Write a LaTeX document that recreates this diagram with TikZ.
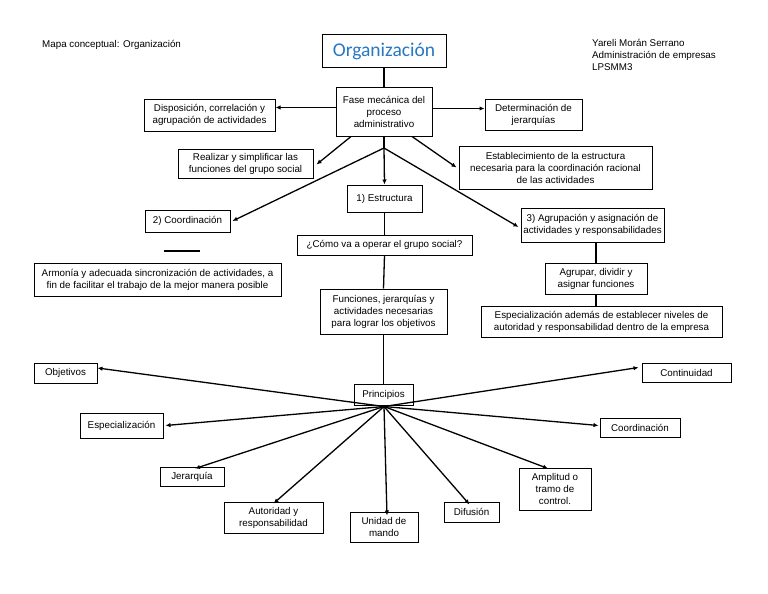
\documentclass[tikz,border=0pt]{standalone}
\usepackage{fontspec}
\setmainfont{Liberation Sans}
\newfontfamily\calfont{Carlito}
\usetikzlibrary{arrows.meta}
\definecolor{orgblue}{RGB}{38,120,196}
\begin{document}
\begin{tikzpicture}[x=1pt,y=-1pt,
  every node/.style={font=\fontsize{9.8}{12}\selectfont, text=black},
  box/.style={draw=black, line width=1pt, inner sep=0pt, align=center, fill=white},
  conn/.style={line width=1.3pt, draw=black},
  arr/.style={conn, -{Latex[length=5pt,width=4.5pt]}}
]
\useasboundingbox (0,0) rectangle (768,594);
% header texts
\node[anchor=west, inner sep=0pt] (title) at (42,45) {Mapa conceptual: Organización};
\node[anchor=north west, align=left, inner sep=0pt] (author) at (592,39) {Yareli Morán Serrano\\Administración de empresas\\LPSMM3};
% top boxes
\node[box, minimum width=124pt, minimum height=33pt, font=\calfont\fontsize{19.5}{22}\selectfont, text=orgblue] (org) at (384,51.5) {Organización};
\node[box, minimum width=96pt, minimum height=49pt] (fase) at (384,111.5) {Fase mecánica del\\proceso\\administrativo};
\node[box, minimum width=131pt, minimum height=32pt] (disp) at (209.5,115) {Disposición, correlación y\\agrupación de actividades};
\node[box, minimum width=97pt, minimum height=31pt] (det) at (533.5,114.5) {Determinación de\\jerarquías};
\node[box, minimum width=135pt, minimum height=29pt] (real) at (245.5,163.5) {Realizar y simplificar las\\funciones del grupo social};
\node[box, minimum width=193pt, minimum height=43pt] (est) at (555.5,167.5) {Establecimiento de la estructura\\necesaria para la coordinación racional\\de las actividades};
\node[box, minimum width=75pt, minimum height=27pt] (estr) at (384.5,198.5) {1) Estructura};
\node[box, minimum width=85pt, minimum height=22pt] (coord2) at (187.5,221) {2) Coordinación};
\node[box, minimum width=143pt, minimum height=34pt] (agr3) at (592.5,225) {3) Agrupación y asignación de\\actividades y responsabilidades};
\node[box, minimum width=247pt, minimum height=33pt] (armonia) at (157.5,279.5) {Armonía y adecuada sincronización de actividades, a\\fin de facilitar el trabajo de la mejor manera posible};
\node[box, minimum width=175pt, minimum height=20pt] (como) at (384.5,245) {¿Cómo va a operar el grupo social?};
\node[box, minimum width=127pt, minimum height=45pt] (func) at (383.5,311.5) {Funciones, jerarquías y\\actividades necesarias\\para lograr los objetivos};
\node[box, minimum width=102pt, minimum height=31pt] (agrupar) at (596,278.5) {Agrupar, dividir y\\asignar funciones};
\node[box, minimum width=241pt, minimum height=31pt] (espad) at (601.5,321.5) {Especialización además de establecer niveles de\\autoridad y responsabilidad dentro de la empresa};
% principles
\node[box, minimum width=59pt, minimum height=21pt] (prin) at (383.5,394.5) {Principios};
\node[box, minimum width=63pt, minimum height=20pt] (obj) at (65.5,373) {Objetivos};
\node[box, minimum width=83pt, minimum height=25pt] (spec) at (121.5,425.5) {Especialización};
\node[box, minimum width=64pt, minimum height=19pt] (jer) at (192,476.5) {Jerarquía};
\node[box, minimum width=99pt, minimum height=31pt] (aut) at (273.5,517.5) {Autoridad y\\responsabilidad};
\node[box, minimum width=68pt, minimum height=30pt] (uni) at (384,527) {Unidad de\\mando};
\node[box, minimum width=55pt, minimum height=20pt] (dif) at (471.5,512) {Difusión};
\node[box, minimum width=72pt, minimum height=42pt] (amp) at (555,489) {Amplitud o\\tramo de\\control.};
\node[box, minimum width=80pt, minimum height=19pt] (coo) at (640,427.5) {Coordinación};
\node[box, minimum width=89pt, minimum height=19pt] (cont) at (686.5,372.5) {Continuidad};
% helper coordinates
\coordinate (br) at (384,148);
\coordinate (hub) at (384,406.5);
\coordinate (dashA) at (164,251);
\coordinate (dashB) at (200,251);
% connectors top
\draw[conn] (org.south) -- (fase.north);
\draw[arr] ([yshift=4pt]fase.west) -- ([yshift=4pt]fase.west -| disp.east);
\draw[arr] ([yshift=3pt]fase.east) -- ([yshift=3pt]fase.east -| det.west);
\draw[arr] ([xshift=-33pt]fase.south) -- ([xshift=3pt,yshift=-1pt]real.east);
\draw[arr] ([xshift=28pt]fase.south) -- ([xshift=-2pt]est.west);
\draw[conn] (fase.south) -- (br);
\draw[arr] (br) -- (estr.north);
\draw[arr] (br) -- ([xshift=2pt]coord2.east);
\draw[arr] (br) -- ([xshift=-2pt,yshift=-2pt]agr3.west);
\draw[conn] (dashA) -- (dashB);
\draw[conn] (estr.south) -- (como.north);
\draw[conn] (como.south) -- (func.north);
\draw[conn] (func.south) -- (prin.north);
\draw[conn] (agrupar.north) -- (agrupar.north |- agr3.south);
\draw[conn] (agrupar.south) -- (agrupar.south |- espad.north);
% principles spokes
\draw[arr] (hub) -- ([yshift=5pt]obj.east);
\draw[arr] (hub) -- ([xshift=2pt]spec.east);
\draw[arr] (hub) -- ([xshift=3pt,yshift=-2pt]jer.north);
\draw[arr] (hub) -- ([yshift=-2pt]aut.north);
\draw[arr] (hub) -- ([xshift=3pt,yshift=-4pt]uni.north);
\draw[arr] (hub) -- ([xshift=-2pt,yshift=-3pt]dif.north);
\draw[arr] (hub) -- ([xshift=-7pt,yshift=-1pt]amp.north);
\draw[arr] (hub) -- ([xshift=-1pt,yshift=2pt]coo.west);
\draw[arr] (hub) -- ([xshift=-3pt,yshift=5pt]cont.west);
\end{tikzpicture}
\end{document}
